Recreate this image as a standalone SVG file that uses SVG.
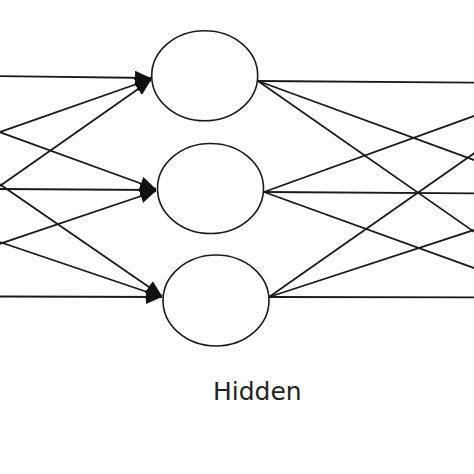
<svg xmlns="http://www.w3.org/2000/svg" width="474" height="474" viewBox="0 0 474 474">
<style>
.node{fill:#fff;stroke:#1a1a1a;stroke-width:1.6}
.edge{fill:none;stroke:#1a1a1a;stroke-width:1.8}
.lbl{font-family:"DejaVu Sans",Verdana,sans-serif;font-size:25px;fill:#222}
</style>
<defs>
<marker id="arr" viewBox="0 0 16 14" refX="16" refY="7" markerWidth="16" markerHeight="14" markerUnits="userSpaceOnUse" orient="auto">
<path d="M0,0 L16,7 L0,14 Z" fill="#111"/>
</marker>
</defs>
<rect width="474" height="474" fill="#fff"/>
<g id="connectors">
<g id="in-edges" marker-end="url(#arr)">
<line class="edge" x1="-160" y1="74" x2="151" y2="78"/>
<line class="edge" x1="-160" y1="188" x2="151" y2="79"/>
<line class="edge" x1="-160" y1="298" x2="151" y2="80"/>
<line class="edge" x1="-160" y1="74" x2="156" y2="189"/>
<line class="edge" x1="-160" y1="188" x2="156" y2="190"/>
<line class="edge" x1="-160" y1="298" x2="156" y2="191"/>
<line class="edge" x1="-160" y1="74" x2="162" y2="296"/>
<line class="edge" x1="-160" y1="188" x2="162" y2="297"/>
<line class="edge" x1="-160" y1="296" x2="162" y2="297"/>
</g>
<g id="out-edges">
<line class="edge" x1="258" y1="81" x2="490" y2="82.8"/>
<line class="edge" x1="258" y1="81" x2="490" y2="165.9"/>
<line class="edge" x1="258" y1="81" x2="490" y2="242.9"/>
<line class="edge" x1="264" y1="192" x2="490" y2="110.2"/>
<line class="edge" x1="264" y1="192" x2="490" y2="193.4"/>
<line class="edge" x1="264" y1="192" x2="490" y2="273.8"/>
<line class="edge" x1="269" y1="297" x2="490" y2="142.1"/>
<line class="edge" x1="269" y1="297" x2="490" y2="224.8"/>
<line class="edge" x1="269" y1="297" x2="490" y2="297.3"/>
</g>
</g>
<g id="h1"><ellipse class="node" cx="204.7" cy="75.7" rx="53" ry="45"/></g>
<g id="h2"><ellipse class="node" cx="210.5" cy="188.5" rx="53" ry="45"/></g>
<g id="h3"><ellipse class="node" cx="216" cy="300.5" rx="53" ry="45.5"/></g>
<g id="label"><text class="lbl" x="213" y="399.5">Hidden</text></g>
</svg>
